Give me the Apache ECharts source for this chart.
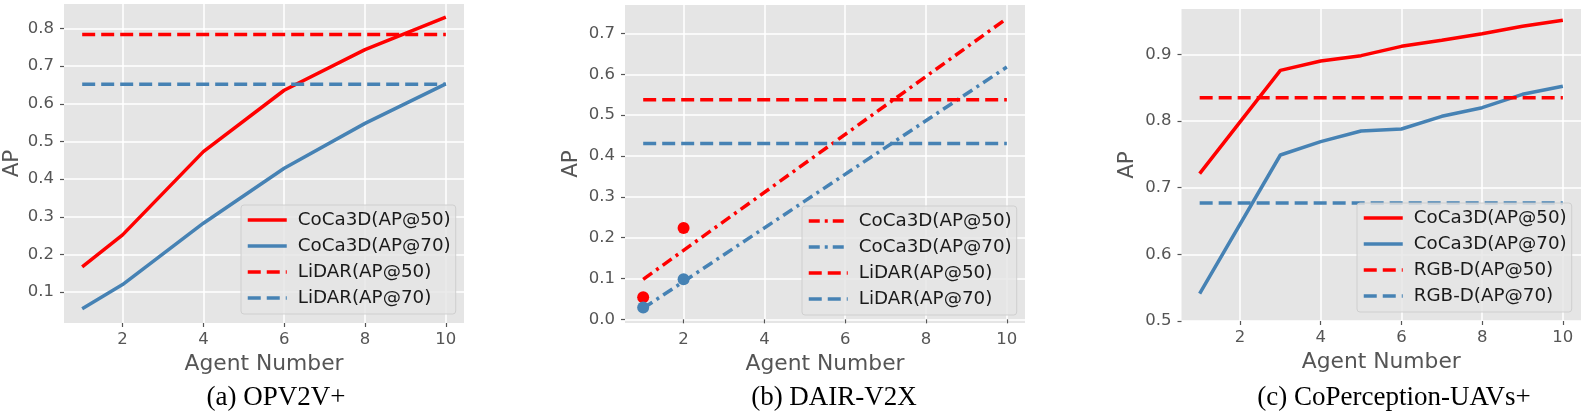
<!DOCTYPE html>
<html>
<head>
<meta charset="utf-8">
<script src="https://cdn.jsdelivr.net/npm/echarts@6/dist/echarts.min.js"></script>
<style>
  html, body { margin: 0; padding: 0; background: #fff; }
  #main { width: 1589px; height: 412px; }
</style>
</head>
<body>
<div id="main"></div>
<script>
// (a) OPV2V+
const agentsA = [1, 2, 4, 6, 8, 10];
const opvCoca50 = [0.167, 0.252, 0.473, 0.636, 0.744, 0.83];
const opvCoca70 = [0.056, 0.12, 0.283, 0.429, 0.548, 0.653];
const opvLidar50 = 0.784;
const opvLidar70 = 0.652;

// (b) DAIR-V2X
const agentsB = [1, 10];
const dairCoca50 = [0.098, 0.737];
const dairCoca70 = [0.027, 0.618];
const dairPtsX = [1, 2];
const dairPts50 = [0.054, 0.224];
const dairPts70 = [0.029, 0.098];
const dairLidar50 = 0.538;
const dairLidar70 = 0.431;

// (c) CoPerception-UAVs+
const agentsC = [1, 3, 4, 5, 6, 7, 8, 9, 10];
const uavCoca50 = [0.721, 0.876, 0.89, 0.898, 0.912, 0.921, 0.931, 0.942, 0.951];
const uavCoca70 = [0.541, 0.749, 0.769, 0.785, 0.788, 0.807, 0.82, 0.84, 0.852];
const uavRgbd50 = 0.835;
const uavRgbd70 = 0.677;

const xTicks = [2, 4, 6, 8, 10];
const yTicksA = [0.1, 0.2, 0.3, 0.4, 0.5, 0.6, 0.7, 0.8];
const yTicksB = [0.0, 0.1, 0.2, 0.3, 0.4, 0.5, 0.6, 0.7];
const yTicksC = [0.5, 0.6, 0.7, 0.8, 0.9];
const captions = ['(a) OPV2V+', '(b) DAIR-V2X', '(c) CoPerception-UAVs+'];

const RED = '#ff0000';
const BLUE = '#4682b4';
const FONT = 'DejaVu Sans';
const GREY = '#555555';

const pairs = (xs, ys) => xs.map((x, i) => [x, ys[i]]);
const flat = (xs, v) => [[xs[0], v], [xs[xs.length - 1], v]];

const grids = [
  { left: 64, top: 4, width: 400, height: 319 },
  { left: 625, top: 5, width: 400, height: 318 },
  { left: 1181.5, top: 9, width: 399.5, height: 312 }
];

function xAxis(i) {
  return {
    type: 'value', gridIndex: i, min: 0.55, max: 10.45,
    axisLine: { show: false },
    axisTick: { show: true, length: 4, customValues: xTicks, lineStyle: { color: GREY, width: 1.2 } },
    axisLabel: { customValues: xTicks, color: GREY, fontSize: 16.5, fontFamily: FONT, margin: 8 },
    splitLine: { show: true, lineStyle: { color: '#ffffff', width: 1.5 } },
    name: 'Agent Number', nameLocation: 'middle', nameGap: 29,
    nameTextStyle: { color: GREY, fontSize: 21.8, fontFamily: FONT }
  };
}

function yAxis(i, min, max, ticks, gap) {
  return {
    type: 'value', gridIndex: i, min: min, max: max,
    axisLine: { show: false },
    axisTick: { show: true, length: 4, customValues: ticks, lineStyle: { color: GREY, width: 1.2 } },
    axisLabel: { customValues: ticks, color: GREY, fontSize: 16.5, fontFamily: FONT, margin: 10,
      formatter: v => v.toFixed(1) },
    splitLine: { show: true, lineStyle: { color: '#ffffff', width: 1.5 } },
    name: 'AP', nameLocation: 'middle', nameGap: gap,
    nameTextStyle: { color: GREY, fontSize: 21.5, fontFamily: FONT }
  };
}

function line(name, i, data, color, type) {
  return {
    name: name, type: 'line', xAxisIndex: i, yAxisIndex: i, data: data,
    symbol: 'none', silent: true, animation: false,
    color: color,
    lineStyle: { color: color, width: 3.5, type: type }
  };
}

function dots(i, data, color) {
  return {
    type: 'scatter', xAxisIndex: i, yAxisIndex: i, data: data,
    symbolSize: 12, itemStyle: { color: color, opacity: 1 }, animation: false, silent: true
  };
}

const DASH = [13, 6];
const DASHDOT = [11, 5, 3, 5];

const series = [
  line('CoCa3D(AP@50)|a', 0, pairs(agentsA, opvCoca50), RED, 'solid'),
  line('CoCa3D(AP@70)|a', 0, pairs(agentsA, opvCoca70), BLUE, 'solid'),
  line('LiDAR(AP@50)|a', 0, flat(agentsA, opvLidar50), RED, DASH),
  line('LiDAR(AP@70)|a', 0, flat(agentsA, opvLidar70), BLUE, DASH),

  line('CoCa3D(AP@50)|b', 1, pairs(agentsB, dairCoca50), RED, DASHDOT),
  line('CoCa3D(AP@70)|b', 1, pairs(agentsB, dairCoca70), BLUE, DASHDOT),
  line('LiDAR(AP@50)|b', 1, flat(agentsB, dairLidar50), RED, DASH),
  line('LiDAR(AP@70)|b', 1, flat(agentsB, dairLidar70), BLUE, DASH),
  dots(1, pairs(dairPtsX, dairPts50), RED),
  dots(1, pairs(dairPtsX, dairPts70), BLUE),

  line('CoCa3D(AP@50)|c', 2, pairs(agentsC, uavCoca50), RED, 'solid'),
  line('CoCa3D(AP@70)|c', 2, pairs(agentsC, uavCoca70), BLUE, 'solid'),
  line('RGB-D(AP@50)|c', 2, flat(agentsC, uavRgbd50), RED, DASH),
  line('RGB-D(AP@70)|c', 2, flat(agentsC, uavRgbd70), BLUE, DASH)
];

function legend(names, left, top) {
  return {
    orient: 'vertical', left: left, top: top,
    data: names,
    formatter: n => n.split('|')[0],
    itemWidth: 39, itemHeight: 14, itemGap: 6,
    padding: [5, 5, 6, 5],
    backgroundColor: 'rgba(229,229,229,0.8)',
    borderColor: 'rgba(204,204,204,0.9)', borderWidth: 1, borderRadius: 3,
    selectedMode: false,
    itemStyle: { opacity: 0 },
    lineStyle: { width: 3.5 },
    textStyle: { color: '#1a1a1a', fontSize: 18.3, fontFamily: FONT, lineHeight: 20, padding: [0, 0, 0, 6] }
  };
}

const option = {
  backgroundColor: '#ffffff',
  animation: false,
  grid: grids.map(g => Object.assign({ show: true, backgroundColor: '#e5e5e5', borderWidth: 0 }, g)),
  xAxis: [xAxis(0), xAxis(1), xAxis(2)],
  yAxis: [
    yAxis(0, 0.018, 0.865, yTicksA, 41),
    yAxis(1, -0.009, 0.77, yTicksB, 43),
    yAxis(2, 0.5, 0.968, yTicksC, 43)
  ],
  legend: [
    legend(['CoCa3D(AP@50)|a', 'CoCa3D(AP@70)|a', 'LiDAR(AP@50)|a', 'LiDAR(AP@70)|a'], 241, 205),
    legend(['CoCa3D(AP@50)|b', 'CoCa3D(AP@70)|b', 'LiDAR(AP@50)|b', 'LiDAR(AP@70)|b'], 802, 206),
    legend(['CoCa3D(AP@50)|c', 'CoCa3D(AP@70)|c', 'RGB-D(AP@50)|c', 'RGB-D(AP@70)|c'], 1357, 203)
  ],
  graphic: captions.map((t, i) => ({
    type: 'text', x: [276, 834, 1394][i], y: 398,
    style: { text: t, fill: '#000', font: '27px "Liberation Serif"', align: 'center', verticalAlign: 'middle' }
  })),
  series: series
};

const chart = echarts.init(document.getElementById('main'));
chart.setOption(option);
</script>
</body>
</html>
